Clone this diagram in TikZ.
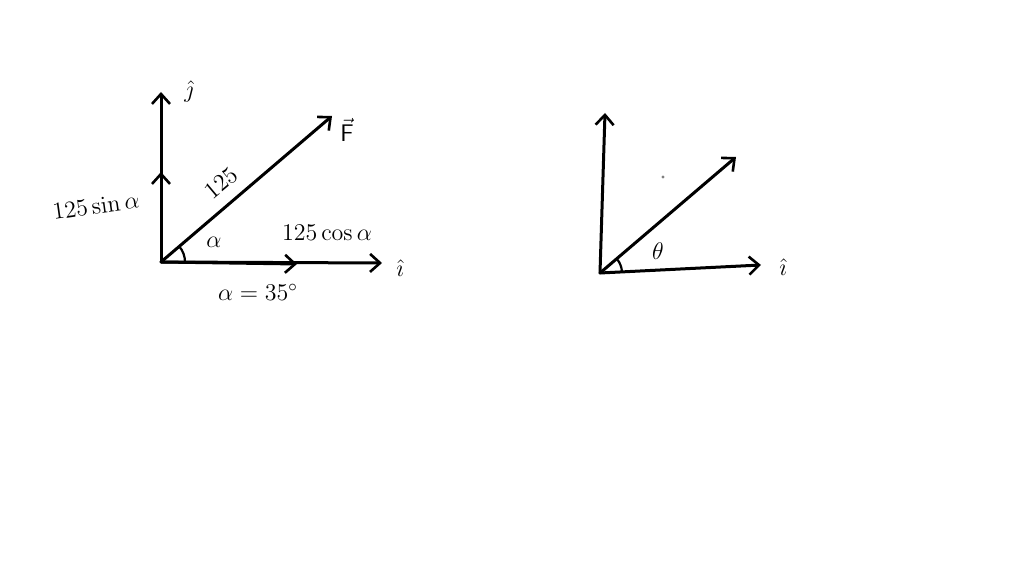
\documentclass[tikz,border=0pt]{standalone}
\usepackage{amsmath}
\usepackage{amssymb}
\usetikzlibrary{arrows.meta}

\tikzset{
  vec/.style={line width=1.5pt, line cap=round, -{Straight Barb[length=5pt,width=9pt,line width=1.3pt]}},
  anglearc/.style={line width=1.1pt},
  lbl/.style={font=\large, inner sep=1pt}
}

\begin{document}
\begin{tikzpicture}[x=0.5pt, y=-0.5pt]
\useasboundingbox[fill=white] (0,0) rectangle (1024,576);
% left diagram
\coordinate (O) at (161,262);
\coordinate (Jtip) at (161,92);
\coordinate (Jmid) at (161,172);
\coordinate (Itip) at (382,263);
\coordinate (Imid) at (297,264);
\coordinate (Ftip) at (332,116);
\draw[vec] (O) -- (Jtip);
\draw[vec] (O) -- (Jmid);
\draw[vec] (O) -- (Itip);
\draw[vec] (O) -- (Imid);
\draw[vec] (O) -- (Ftip);
\draw[anglearc] ([shift={(0:24)}]O) arc[start angle=0, end angle=-40, radius=24];
\node[lbl] (jhat) at (189,92) {$\hat{\jmath}$};
\node[lbl] (ihat) at (400,268) {$\hat{\imath}$};
\node[lbl] (Flbl) at (347,130) {$\vec{\mathsf{F}}$};
\node[lbl, rotate=40] (mag) at (221,183) {$125$};
\node[lbl, rotate=8] (Fy) at (96,206) {$125\sin\alpha$};
\node[lbl] (Fx) at (327,233) {$125\cos\alpha$};
\node[lbl] (alpha) at (214,242) {$\alpha$};
\node[lbl] (given) at (258,292) {$\alpha = 35^{\circ}$};
% right diagram
\coordinate (P) at (600,273);
\coordinate (Ptop) at (605,113);
\coordinate (Pright) at (761,265);
\coordinate (Pdiag) at (736,157);
\draw[vec] (P) -- (Ptop);
\draw[vec] (P) -- (Pright);
\draw[vec] (P) -- (Pdiag);
\draw[anglearc] ([shift={(-3:22)}]P) arc[start angle=-3, end angle=-40, radius=22];
\node[lbl] (theta) at (658,251) {$\theta$};
\node[lbl] (ihat2) at (783,267) {$\hat{\imath}$};
\fill[gray] (663,177) circle[radius=1.6];
\end{tikzpicture}
\end{document}
